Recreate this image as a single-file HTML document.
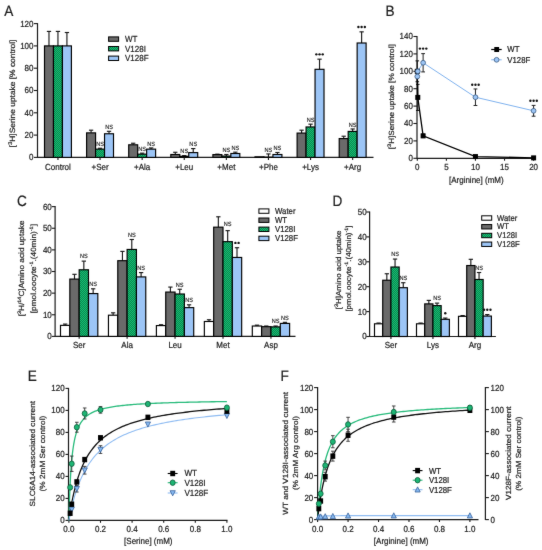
<!DOCTYPE html>
<html><head><meta charset="utf-8"><style>
html,body{margin:0;padding:0;background:#fff;width:542px;height:550px;overflow:hidden}
svg{display:block}
text{text-rendering:geometricPrecision;font-family:"Liberation Sans",sans-serif;fill:#1e1e1e;stroke:#222;stroke-width:0.2px}
</style></head><body>
<svg width="542" height="550" viewBox="0 0 542 550">
<defs>
<filter id="bl" x="0" y="0" width="542" height="550" filterUnits="userSpaceOnUse" color-interpolation-filters="sRGB"><feConvolveMatrix order="3" kernelMatrix="0.015 0.07 0.015 0.07 1 0.07 0.015 0.07 0.015" divisor="1.34" edgeMode="duplicate"/></filter>
<pattern id="hatch" patternUnits="userSpaceOnUse" width="2" height="2">
<rect width="2" height="2" fill="#14c273"/>
<path d="M-0.5,0.5 L0.5,-0.5 M-0.5,2.5 L2.5,-0.5 M1.5,2.5 L2.5,1.5" stroke="#08603a" stroke-width="0.65"/>
</pattern>
</defs>
<g filter="url(#bl)">
<rect width="542" height="550" fill="#fff"/>
<text transform="translate(4.3,15.8) scale(1,1.1)" font-size="13.6" text-anchor="start" >A</text>
<line x1="37.5" y1="23.1" x2="37.5" y2="157.9" stroke="#1a1a1a" stroke-width="1.2" />
<line x1="33.9" y1="157.4" x2="37.5" y2="157.4" stroke="#1a1a1a" stroke-width="1.1" />
<text transform="translate(33.5,160.3) scale(1,1.1)" font-size="8.0" text-anchor="end" >0</text>
<line x1="33.9" y1="135.1" x2="37.5" y2="135.1" stroke="#1a1a1a" stroke-width="1.1" />
<text transform="translate(33.5,138) scale(1,1.1)" font-size="8.0" text-anchor="end" >20</text>
<line x1="33.9" y1="112.8" x2="37.5" y2="112.8" stroke="#1a1a1a" stroke-width="1.1" />
<text transform="translate(33.5,115.7) scale(1,1.1)" font-size="8.0" text-anchor="end" >40</text>
<line x1="33.9" y1="90.5" x2="37.5" y2="90.5" stroke="#1a1a1a" stroke-width="1.1" />
<text transform="translate(33.5,93.4) scale(1,1.1)" font-size="8.0" text-anchor="end" >60</text>
<line x1="33.9" y1="68.2" x2="37.5" y2="68.2" stroke="#1a1a1a" stroke-width="1.1" />
<text transform="translate(33.5,71.1) scale(1,1.1)" font-size="8.0" text-anchor="end" >80</text>
<line x1="33.9" y1="45.9" x2="37.5" y2="45.9" stroke="#1a1a1a" stroke-width="1.1" />
<text transform="translate(33.5,48.8) scale(1,1.1)" font-size="8.0" text-anchor="end" >100</text>
<line x1="33.9" y1="23.6" x2="37.5" y2="23.6" stroke="#1a1a1a" stroke-width="1.1" />
<text transform="translate(33.5,26.5) scale(1,1.1)" font-size="8.0" text-anchor="end" >120</text>
<line x1="37.5" y1="157.4" x2="373.5" y2="157.4" stroke="#1a1a1a" stroke-width="1.2" />
<line x1="48.98" y1="45.9" x2="48.98" y2="31.41" stroke="#1a1a1a" stroke-width="1.15" />
<line x1="46.84" y1="31.41" x2="51.13" y2="31.41" stroke="#1a1a1a" stroke-width="1.15" />
<rect x="44.5" y="45.9" width="8.97" height="111.5" fill="#6a6a6a" stroke="#000" stroke-width="1.15"/>
<line x1="57.95" y1="45.9" x2="57.95" y2="31.41" stroke="#1a1a1a" stroke-width="1.15" />
<line x1="55.8" y1="31.41" x2="60.1" y2="31.41" stroke="#1a1a1a" stroke-width="1.15" />
<rect x="53.47" y="45.9" width="8.97" height="111.5" fill="url(#hatch)" stroke="#000" stroke-width="1.15"/>
<line x1="66.92" y1="45.9" x2="66.92" y2="32.52" stroke="#1a1a1a" stroke-width="1.15" />
<line x1="64.77" y1="32.52" x2="69.08" y2="32.52" stroke="#1a1a1a" stroke-width="1.15" />
<rect x="62.44" y="45.9" width="8.97" height="111.5" fill="#9cc5f6" stroke="#000" stroke-width="1.15"/>
<line x1="57.95" y1="157.4" x2="57.95" y2="160" stroke="#1a1a1a" stroke-width="1.1" />
<text transform="translate(57.95,169.6) scale(1,1.1)" font-size="8.0" text-anchor="middle" >Control</text>
<line x1="91.08" y1="132.87" x2="91.08" y2="130.19" stroke="#1a1a1a" stroke-width="1.15" />
<line x1="88.93" y1="130.19" x2="93.23" y2="130.19" stroke="#1a1a1a" stroke-width="1.15" />
<rect x="86.6" y="132.87" width="8.97" height="24.53" fill="#6a6a6a" stroke="#000" stroke-width="1.15"/>
<line x1="100.05" y1="149.15" x2="100.05" y2="148.26" stroke="#1a1a1a" stroke-width="1.15" />
<line x1="97.9" y1="148.26" x2="102.2" y2="148.26" stroke="#1a1a1a" stroke-width="1.15" />
<rect x="95.57" y="149.15" width="8.97" height="8.25" fill="url(#hatch)" stroke="#000" stroke-width="1.15"/>
<text transform="translate(100.05,146.06) scale(1,1.1)" font-size="5.6" text-anchor="middle" style="stroke:#111;stroke-width:0.12px" fill="#111">NS</text>
<line x1="109.02" y1="133.76" x2="109.02" y2="131.31" stroke="#1a1a1a" stroke-width="1.15" />
<line x1="106.87" y1="131.31" x2="111.17" y2="131.31" stroke="#1a1a1a" stroke-width="1.15" />
<rect x="104.54" y="133.76" width="8.97" height="23.64" fill="#9cc5f6" stroke="#000" stroke-width="1.15"/>
<text transform="translate(109.02,129.11) scale(1,1.1)" font-size="5.6" text-anchor="middle" style="stroke:#111;stroke-width:0.12px" fill="#111">NS</text>
<line x1="100.05" y1="157.4" x2="100.05" y2="160" stroke="#1a1a1a" stroke-width="1.1" />
<text transform="translate(100.05,169.6) scale(1,1.1)" font-size="8.0" text-anchor="middle" >+Ser</text>
<line x1="133.19" y1="144.8" x2="133.19" y2="143.24" stroke="#1a1a1a" stroke-width="1.15" />
<line x1="131.03" y1="143.24" x2="135.34" y2="143.24" stroke="#1a1a1a" stroke-width="1.15" />
<rect x="128.7" y="144.8" width="8.97" height="12.6" fill="#6a6a6a" stroke="#000" stroke-width="1.15"/>
<line x1="142.16" y1="154.17" x2="142.16" y2="153.16" stroke="#1a1a1a" stroke-width="1.15" />
<line x1="140" y1="153.16" x2="144.31" y2="153.16" stroke="#1a1a1a" stroke-width="1.15" />
<rect x="137.67" y="154.17" width="8.97" height="3.23" fill="url(#hatch)" stroke="#000" stroke-width="1.15"/>
<text transform="translate(142.16,150.96) scale(1,1.1)" font-size="5.6" text-anchor="middle" style="stroke:#111;stroke-width:0.12px" fill="#111">NS</text>
<line x1="151.12" y1="149.15" x2="151.12" y2="147.92" stroke="#1a1a1a" stroke-width="1.15" />
<line x1="148.97" y1="147.92" x2="153.28" y2="147.92" stroke="#1a1a1a" stroke-width="1.15" />
<rect x="146.64" y="149.15" width="8.97" height="8.25" fill="#9cc5f6" stroke="#000" stroke-width="1.15"/>
<text transform="translate(151.12,145.72) scale(1,1.1)" font-size="5.6" text-anchor="middle" style="stroke:#111;stroke-width:0.12px" fill="#111">NS</text>
<line x1="142.16" y1="157.4" x2="142.16" y2="160" stroke="#1a1a1a" stroke-width="1.1" />
<text transform="translate(142.16,169.6) scale(1,1.1)" font-size="8.0" text-anchor="middle" >+Ala</text>
<line x1="175.29" y1="154.5" x2="175.29" y2="152.27" stroke="#1a1a1a" stroke-width="1.15" />
<line x1="173.14" y1="152.27" x2="177.44" y2="152.27" stroke="#1a1a1a" stroke-width="1.15" />
<rect x="170.8" y="154.5" width="8.97" height="2.9" fill="#6a6a6a" stroke="#000" stroke-width="1.15"/>
<line x1="184.26" y1="156.28" x2="184.26" y2="155.62" stroke="#1a1a1a" stroke-width="1.15" />
<line x1="182.11" y1="155.62" x2="186.41" y2="155.62" stroke="#1a1a1a" stroke-width="1.15" />
<rect x="179.77" y="156.28" width="8.97" height="1.12" fill="url(#hatch)" stroke="#000" stroke-width="1.15"/>
<text transform="translate(184.26,153.42) scale(1,1.1)" font-size="5.6" text-anchor="middle" style="stroke:#111;stroke-width:0.12px" fill="#111">NS</text>
<line x1="193.23" y1="152.61" x2="193.23" y2="148.59" stroke="#1a1a1a" stroke-width="1.15" />
<line x1="191.08" y1="148.59" x2="195.38" y2="148.59" stroke="#1a1a1a" stroke-width="1.15" />
<rect x="188.74" y="152.61" width="8.97" height="4.79" fill="#9cc5f6" stroke="#000" stroke-width="1.15"/>
<text transform="translate(193.23,146.39) scale(1,1.1)" font-size="5.6" text-anchor="middle" style="stroke:#111;stroke-width:0.12px" fill="#111">NS</text>
<line x1="184.26" y1="157.4" x2="184.26" y2="160" stroke="#1a1a1a" stroke-width="1.1" />
<text transform="translate(184.26,169.6) scale(1,1.1)" font-size="8.0" text-anchor="middle" >+Leu</text>
<line x1="217.39" y1="154.61" x2="217.39" y2="154.17" stroke="#1a1a1a" stroke-width="1.15" />
<line x1="215.24" y1="154.17" x2="219.54" y2="154.17" stroke="#1a1a1a" stroke-width="1.15" />
<rect x="212.9" y="154.61" width="8.97" height="2.79" fill="#6a6a6a" stroke="#000" stroke-width="1.15"/>
<line x1="226.36" y1="156.06" x2="226.36" y2="154.5" stroke="#1a1a1a" stroke-width="1.15" />
<line x1="224.21" y1="154.5" x2="228.51" y2="154.5" stroke="#1a1a1a" stroke-width="1.15" />
<rect x="221.87" y="156.06" width="8.97" height="1.34" fill="url(#hatch)" stroke="#000" stroke-width="1.15"/>
<text transform="translate(226.36,152.3) scale(1,1.1)" font-size="5.6" text-anchor="middle" style="stroke:#111;stroke-width:0.12px" fill="#111">NS</text>
<line x1="235.33" y1="153.5" x2="235.33" y2="152.16" stroke="#1a1a1a" stroke-width="1.15" />
<line x1="233.18" y1="152.16" x2="237.48" y2="152.16" stroke="#1a1a1a" stroke-width="1.15" />
<rect x="230.84" y="153.5" width="8.97" height="3.9" fill="#9cc5f6" stroke="#000" stroke-width="1.15"/>
<text transform="translate(235.33,149.96) scale(1,1.1)" font-size="5.6" text-anchor="middle" style="stroke:#111;stroke-width:0.12px" fill="#111">NS</text>
<line x1="226.36" y1="157.4" x2="226.36" y2="160" stroke="#1a1a1a" stroke-width="1.1" />
<text transform="translate(226.36,169.6) scale(1,1.1)" font-size="8.0" text-anchor="middle" >+Met</text>
<rect x="255" y="156.84" width="8.97" height="0.56" fill="#6a6a6a" stroke="#000" stroke-width="1.15"/>
<line x1="268.46" y1="157.18" x2="268.46" y2="153.94" stroke="#1a1a1a" stroke-width="1.15" />
<line x1="266.31" y1="153.94" x2="270.61" y2="153.94" stroke="#1a1a1a" stroke-width="1.15" />
<rect x="263.97" y="157.18" width="8.97" height="0.22" fill="url(#hatch)" stroke="#000" stroke-width="1.15"/>
<text transform="translate(268.46,151.74) scale(1,1.1)" font-size="5.6" text-anchor="middle" style="stroke:#111;stroke-width:0.12px" fill="#111">NS</text>
<line x1="277.43" y1="154.5" x2="277.43" y2="152.49" stroke="#1a1a1a" stroke-width="1.15" />
<line x1="275.28" y1="152.49" x2="279.57" y2="152.49" stroke="#1a1a1a" stroke-width="1.15" />
<rect x="272.94" y="154.5" width="8.97" height="2.9" fill="#9cc5f6" stroke="#000" stroke-width="1.15"/>
<text transform="translate(277.43,150.29) scale(1,1.1)" font-size="5.6" text-anchor="middle" style="stroke:#111;stroke-width:0.12px" fill="#111">NS</text>
<line x1="268.45" y1="157.4" x2="268.45" y2="160" stroke="#1a1a1a" stroke-width="1.1" />
<text transform="translate(268.45,169.6) scale(1,1.1)" font-size="8.0" text-anchor="middle" >+Phe</text>
<line x1="301.59" y1="133.09" x2="301.59" y2="130.19" stroke="#1a1a1a" stroke-width="1.15" />
<line x1="299.44" y1="130.19" x2="303.74" y2="130.19" stroke="#1a1a1a" stroke-width="1.15" />
<rect x="297.1" y="133.09" width="8.97" height="24.31" fill="#6a6a6a" stroke="#000" stroke-width="1.15"/>
<line x1="310.56" y1="126.96" x2="310.56" y2="124.17" stroke="#1a1a1a" stroke-width="1.15" />
<line x1="308.41" y1="124.17" x2="312.71" y2="124.17" stroke="#1a1a1a" stroke-width="1.15" />
<rect x="306.07" y="126.96" width="8.97" height="30.44" fill="url(#hatch)" stroke="#000" stroke-width="1.15"/>
<text transform="translate(310.56,121.97) scale(1,1.1)" font-size="5.6" text-anchor="middle" style="stroke:#111;stroke-width:0.12px" fill="#111">NS</text>
<line x1="319.53" y1="69.32" x2="319.53" y2="59.17" stroke="#1a1a1a" stroke-width="1.15" />
<line x1="317.38" y1="59.17" x2="321.68" y2="59.17" stroke="#1a1a1a" stroke-width="1.15" />
<rect x="315.04" y="69.32" width="8.97" height="88.08" fill="#9cc5f6" stroke="#000" stroke-width="1.15"/>
<circle cx="316.33" cy="54.37" r="1.2" fill="#111"/>
<circle cx="319.53" cy="54.37" r="1.2" fill="#111"/>
<circle cx="322.73" cy="54.37" r="1.2" fill="#111"/>
<line x1="310.56" y1="157.4" x2="310.56" y2="160" stroke="#1a1a1a" stroke-width="1.1" />
<text transform="translate(310.56,169.6) scale(1,1.1)" font-size="8.0" text-anchor="middle" >+Lys</text>
<line x1="343.69" y1="138.56" x2="343.69" y2="136.22" stroke="#1a1a1a" stroke-width="1.15" />
<line x1="341.54" y1="136.22" x2="345.83" y2="136.22" stroke="#1a1a1a" stroke-width="1.15" />
<rect x="339.2" y="138.56" width="8.97" height="18.84" fill="#6a6a6a" stroke="#000" stroke-width="1.15"/>
<line x1="352.66" y1="131.42" x2="352.66" y2="128.97" stroke="#1a1a1a" stroke-width="1.15" />
<line x1="350.51" y1="128.97" x2="354.81" y2="128.97" stroke="#1a1a1a" stroke-width="1.15" />
<rect x="348.17" y="131.42" width="8.97" height="25.98" fill="url(#hatch)" stroke="#000" stroke-width="1.15"/>
<text transform="translate(352.66,126.77) scale(1,1.1)" font-size="5.6" text-anchor="middle" style="stroke:#111;stroke-width:0.12px" fill="#111">NS</text>
<line x1="361.62" y1="43" x2="361.62" y2="31.85" stroke="#1a1a1a" stroke-width="1.15" />
<line x1="359.48" y1="31.85" x2="363.77" y2="31.85" stroke="#1a1a1a" stroke-width="1.15" />
<rect x="357.14" y="43" width="8.97" height="114.4" fill="#9cc5f6" stroke="#000" stroke-width="1.15"/>
<circle cx="358.43" cy="27.05" r="1.2" fill="#111"/>
<circle cx="361.62" cy="27.05" r="1.2" fill="#111"/>
<circle cx="364.82" cy="27.05" r="1.2" fill="#111"/>
<line x1="352.65" y1="157.4" x2="352.65" y2="160" stroke="#1a1a1a" stroke-width="1.1" />
<text transform="translate(352.65,169.6) scale(1,1.1)" font-size="8.0" text-anchor="middle" >+Arg</text>
<rect x="108.6" y="36.9" width="10" height="4.4" fill="#6a6a6a" stroke="#000" stroke-width="1.0"/>
<text transform="translate(125,41.9) scale(1,1.1)" font-size="8.0" text-anchor="start" >WT</text>
<rect x="108.6" y="46.5" width="10" height="4.4" fill="url(#hatch)" stroke="#000" stroke-width="1.0"/>
<text transform="translate(125,51.5) scale(1,1.1)" font-size="8.0" text-anchor="start" >V128I</text>
<rect x="108.6" y="56.1" width="10" height="4.4" fill="#9cc5f6" stroke="#000" stroke-width="1.0"/>
<text transform="translate(125,61.1) scale(1,1.1)" font-size="8.0" text-anchor="start" >V128F</text>
<text transform="translate(15.2,93.5) scale(1,1.1) rotate(-90)" font-size="7.64" text-anchor="middle">[<tspan font-size="5.5" dy="-3">3</tspan><tspan dy="3">H]Serine uptake [% control]</tspan></text>
<text transform="translate(385.4,15.8) scale(1,1.1)" font-size="13.6" text-anchor="start" >B</text>
<line x1="417" y1="36" x2="417" y2="158.8" stroke="#1a1a1a" stroke-width="1.2" />
<line x1="413.4" y1="158.3" x2="417" y2="158.3" stroke="#1a1a1a" stroke-width="1.1" />
<text transform="translate(412.9,161.2) scale(1,1.1)" font-size="8.0" text-anchor="end" >0</text>
<line x1="413.4" y1="140.9" x2="417" y2="140.9" stroke="#1a1a1a" stroke-width="1.1" />
<text transform="translate(412.9,143.8) scale(1,1.1)" font-size="8.0" text-anchor="end" >20</text>
<line x1="413.4" y1="123.5" x2="417" y2="123.5" stroke="#1a1a1a" stroke-width="1.1" />
<text transform="translate(412.9,126.4) scale(1,1.1)" font-size="8.0" text-anchor="end" >40</text>
<line x1="413.4" y1="106.1" x2="417" y2="106.1" stroke="#1a1a1a" stroke-width="1.1" />
<text transform="translate(412.9,109) scale(1,1.1)" font-size="8.0" text-anchor="end" >60</text>
<line x1="413.4" y1="88.7" x2="417" y2="88.7" stroke="#1a1a1a" stroke-width="1.1" />
<text transform="translate(412.9,91.6) scale(1,1.1)" font-size="8.0" text-anchor="end" >80</text>
<line x1="413.4" y1="71.3" x2="417" y2="71.3" stroke="#1a1a1a" stroke-width="1.1" />
<text transform="translate(412.9,74.2) scale(1,1.1)" font-size="8.0" text-anchor="end" >100</text>
<line x1="413.4" y1="53.9" x2="417" y2="53.9" stroke="#1a1a1a" stroke-width="1.1" />
<text transform="translate(412.9,56.8) scale(1,1.1)" font-size="8.0" text-anchor="end" >120</text>
<line x1="413.4" y1="36.5" x2="417" y2="36.5" stroke="#1a1a1a" stroke-width="1.1" />
<text transform="translate(412.9,39.4) scale(1,1.1)" font-size="8.0" text-anchor="end" >140</text>
<line x1="417" y1="158.3" x2="534.2" y2="158.3" stroke="#1a1a1a" stroke-width="1.2" />
<line x1="417.3" y1="158.3" x2="417.3" y2="160.7" stroke="#1a1a1a" stroke-width="1.1" />
<text transform="translate(417.3,169.8) scale(1,1.1)" font-size="8.0" text-anchor="middle" >0</text>
<line x1="446.38" y1="158.3" x2="446.38" y2="160.7" stroke="#1a1a1a" stroke-width="1.1" />
<text transform="translate(446.38,169.8) scale(1,1.1)" font-size="8.0" text-anchor="middle" >5</text>
<line x1="475.45" y1="158.3" x2="475.45" y2="160.7" stroke="#1a1a1a" stroke-width="1.1" />
<text transform="translate(475.45,169.8) scale(1,1.1)" font-size="8.0" text-anchor="middle" >10</text>
<line x1="504.53" y1="158.3" x2="504.53" y2="160.7" stroke="#1a1a1a" stroke-width="1.1" />
<text transform="translate(504.53,169.8) scale(1,1.1)" font-size="8.0" text-anchor="middle" >15</text>
<line x1="533.6" y1="158.3" x2="533.6" y2="160.7" stroke="#1a1a1a" stroke-width="1.1" />
<text transform="translate(533.6,169.8) scale(1,1.1)" font-size="8.0" text-anchor="middle" >20</text>
<text transform="translate(476.3,183.2) scale(1,1.1)" font-size="8.0" text-anchor="middle" >[Arginine] (mM)</text>
<text transform="translate(393.5,96.8) scale(1,1.1) rotate(-90)" font-size="7.45" text-anchor="middle">[<tspan font-size="5.3" dy="-3">3</tspan><tspan dy="3">H]Serine uptake [% control]</tspan></text>
<line x1="417.3" y1="60.86" x2="417.3" y2="81.74" stroke="#111" stroke-width="1.0" />
<line x1="415.5" y1="60.86" x2="419.1" y2="60.86" stroke="#111" stroke-width="1.0" />
<line x1="415.5" y1="81.74" x2="419.1" y2="81.74" stroke="#111" stroke-width="1.0" />
<line x1="417.77" y1="84.35" x2="417.77" y2="110.45" stroke="#111" stroke-width="1.0" />
<line x1="415.97" y1="84.35" x2="419.57" y2="84.35" stroke="#111" stroke-width="1.0" />
<line x1="415.97" y1="110.45" x2="419.57" y2="110.45" stroke="#111" stroke-width="1.0" />
<line x1="423.12" y1="134.11" x2="423.12" y2="137.59" stroke="#111" stroke-width="1.0" />
<line x1="421.31" y1="134.11" x2="424.92" y2="134.11" stroke="#111" stroke-width="1.0" />
<line x1="421.31" y1="137.59" x2="424.92" y2="137.59" stroke="#111" stroke-width="1.0" />
<line x1="475.45" y1="155.69" x2="475.45" y2="157.43" stroke="#111" stroke-width="1.0" />
<line x1="473.65" y1="155.69" x2="477.25" y2="155.69" stroke="#111" stroke-width="1.0" />
<line x1="473.65" y1="157.43" x2="477.25" y2="157.43" stroke="#111" stroke-width="1.0" />
<line x1="423.12" y1="53.64" x2="423.12" y2="71.91" stroke="#222" stroke-width="1.0" />
<line x1="421.22" y1="53.64" x2="425.01" y2="53.64" stroke="#222" stroke-width="1.0" />
<line x1="421.22" y1="71.91" x2="425.01" y2="71.91" stroke="#222" stroke-width="1.0" />
<line x1="475.45" y1="88.96" x2="475.45" y2="105.49" stroke="#222" stroke-width="1.0" />
<line x1="473.55" y1="88.96" x2="477.35" y2="88.96" stroke="#222" stroke-width="1.0" />
<line x1="473.55" y1="105.49" x2="477.35" y2="105.49" stroke="#222" stroke-width="1.0" />
<line x1="533.6" y1="105.4" x2="533.6" y2="116.19" stroke="#222" stroke-width="1.0" />
<line x1="531.7" y1="105.4" x2="535.5" y2="105.4" stroke="#222" stroke-width="1.0" />
<line x1="531.7" y1="116.19" x2="535.5" y2="116.19" stroke="#222" stroke-width="1.0" />
<polyline points="417.3,71.3 417.77,97.4 423.12,135.85 475.45,156.56 533.6,157.87" fill="none" stroke="#000" stroke-width="1.3"/>
<polyline points="417.3,76.52 417.77,71.3 423.12,62.77 475.45,97.23 533.6,110.8" fill="none" stroke="#7fb2ee" stroke-width="1.0"/>
<rect x="414.8" y="68.8" width="5" height="5" fill="#000"/>
<rect x="415.27" y="94.9" width="5" height="5" fill="#000"/>
<rect x="420.62" y="133.35" width="5" height="5" fill="#000"/>
<rect x="472.95" y="154.06" width="5" height="5" fill="#000"/>
<rect x="531.1" y="155.37" width="5" height="5" fill="#000"/>
<circle cx="417.3" cy="76.52" r="2.4" fill="#9cc5f6" stroke="#3a5a80" stroke-width="0.8"/>
<circle cx="417.77" cy="71.3" r="2.4" fill="#9cc5f6" stroke="#3a5a80" stroke-width="0.8"/>
<circle cx="423.12" cy="62.77" r="2.4" fill="#9cc5f6" stroke="#3a5a80" stroke-width="0.8"/>
<circle cx="475.45" cy="97.23" r="2.4" fill="#9cc5f6" stroke="#3a5a80" stroke-width="0.8"/>
<circle cx="533.6" cy="110.8" r="2.4" fill="#9cc5f6" stroke="#3a5a80" stroke-width="0.8"/>
<circle cx="419.92" cy="48.6" r="1.2" fill="#111"/>
<circle cx="423.12" cy="48.6" r="1.2" fill="#111"/>
<circle cx="426.31" cy="48.6" r="1.2" fill="#111"/>
<circle cx="472.25" cy="84.8" r="1.2" fill="#111"/>
<circle cx="475.45" cy="84.8" r="1.2" fill="#111"/>
<circle cx="478.65" cy="84.8" r="1.2" fill="#111"/>
<circle cx="530.4" cy="100.8" r="1.2" fill="#111"/>
<circle cx="533.6" cy="100.8" r="1.2" fill="#111"/>
<circle cx="536.8" cy="100.8" r="1.2" fill="#111"/>
<line x1="491.2" y1="49.5" x2="501.7" y2="49.5" stroke="#000" stroke-width="1.2" />
<rect x="494.3" y="47.0" width="4.8" height="5.0" fill="#000"/>
<line x1="491.2" y1="59.8" x2="501.7" y2="59.8" stroke="#7fb2ee" stroke-width="1.0" />
<circle cx="496.6" cy="59.8" r="2.4" fill="#9cc5f6" stroke="#3a5a80" stroke-width="0.8"/>
<text transform="translate(507.3,52.4) scale(1,1.1)" font-size="7.8" text-anchor="start" >WT</text>
<text transform="translate(507.3,62.7) scale(1,1.1)" font-size="7.8" text-anchor="start" >V128F</text>
<text transform="translate(17,206.3) scale(1,1.1)" font-size="13.6" text-anchor="start" >C</text>
<line x1="55.1" y1="206.12" x2="55.1" y2="336.9" stroke="#1a1a1a" stroke-width="1.2" />
<line x1="51.8" y1="336.4" x2="55.1" y2="336.4" stroke="#1a1a1a" stroke-width="1.1" />
<text transform="translate(51.8,339.3) scale(1,1.1)" font-size="8.0" text-anchor="end" >0</text>
<line x1="51.8" y1="314.77" x2="55.1" y2="314.77" stroke="#1a1a1a" stroke-width="1.1" />
<text transform="translate(51.8,317.67) scale(1,1.1)" font-size="8.0" text-anchor="end" >10</text>
<line x1="51.8" y1="293.14" x2="55.1" y2="293.14" stroke="#1a1a1a" stroke-width="1.1" />
<text transform="translate(51.8,296.04) scale(1,1.1)" font-size="8.0" text-anchor="end" >20</text>
<line x1="51.8" y1="271.51" x2="55.1" y2="271.51" stroke="#1a1a1a" stroke-width="1.1" />
<text transform="translate(51.8,274.41) scale(1,1.1)" font-size="8.0" text-anchor="end" >30</text>
<line x1="51.8" y1="249.88" x2="55.1" y2="249.88" stroke="#1a1a1a" stroke-width="1.1" />
<text transform="translate(51.8,252.78) scale(1,1.1)" font-size="8.0" text-anchor="end" >40</text>
<line x1="51.8" y1="228.25" x2="55.1" y2="228.25" stroke="#1a1a1a" stroke-width="1.1" />
<text transform="translate(51.8,231.15) scale(1,1.1)" font-size="8.0" text-anchor="end" >50</text>
<line x1="51.8" y1="206.62" x2="55.1" y2="206.62" stroke="#1a1a1a" stroke-width="1.1" />
<text transform="translate(51.8,209.52) scale(1,1.1)" font-size="8.0" text-anchor="end" >60</text>
<line x1="55.1" y1="336.4" x2="295.5" y2="336.4" stroke="#1a1a1a" stroke-width="1.2" />
<line x1="65.17" y1="325.37" x2="65.17" y2="324.07" stroke="#1a1a1a" stroke-width="1.15" />
<line x1="63.02" y1="324.07" x2="67.32" y2="324.07" stroke="#1a1a1a" stroke-width="1.15" />
<rect x="60.5" y="325.37" width="9.33" height="11.03" fill="#ffffff" stroke="#000" stroke-width="1.15"/>
<line x1="74.5" y1="279.08" x2="74.5" y2="274.32" stroke="#1a1a1a" stroke-width="1.15" />
<line x1="72.34" y1="274.32" x2="76.65" y2="274.32" stroke="#1a1a1a" stroke-width="1.15" />
<rect x="69.83" y="279.08" width="9.33" height="57.32" fill="#6a6a6a" stroke="#000" stroke-width="1.15"/>
<line x1="83.83" y1="269.78" x2="83.83" y2="261.13" stroke="#1a1a1a" stroke-width="1.15" />
<line x1="81.67" y1="261.13" x2="85.98" y2="261.13" stroke="#1a1a1a" stroke-width="1.15" />
<rect x="79.16" y="269.78" width="9.33" height="66.62" fill="url(#hatch)" stroke="#000" stroke-width="1.15"/>
<text transform="translate(83.83,258.43) scale(1,1.1)" font-size="5.6" text-anchor="middle" style="stroke:#111;stroke-width:0.12px" fill="#111">NS</text>
<line x1="93.16" y1="293.57" x2="93.16" y2="288.81" stroke="#1a1a1a" stroke-width="1.15" />
<line x1="91.01" y1="288.81" x2="95.31" y2="288.81" stroke="#1a1a1a" stroke-width="1.15" />
<rect x="88.49" y="293.57" width="9.33" height="42.83" fill="#9cc5f6" stroke="#000" stroke-width="1.15"/>
<text transform="translate(93.16,286.11) scale(1,1.1)" font-size="5.6" text-anchor="middle" style="stroke:#111;stroke-width:0.12px" fill="#111">NS</text>
<line x1="79.16" y1="336.4" x2="79.16" y2="338.8" stroke="#1a1a1a" stroke-width="1.1" />
<text transform="translate(79.16,348) scale(1,1.1)" font-size="8.0" text-anchor="middle" >Ser</text>
<line x1="113.12" y1="315.2" x2="113.12" y2="312.82" stroke="#1a1a1a" stroke-width="1.15" />
<line x1="110.97" y1="312.82" x2="115.27" y2="312.82" stroke="#1a1a1a" stroke-width="1.15" />
<rect x="108.45" y="315.2" width="9.33" height="21.2" fill="#ffffff" stroke="#000" stroke-width="1.15"/>
<line x1="122.45" y1="260.69" x2="122.45" y2="251.39" stroke="#1a1a1a" stroke-width="1.15" />
<line x1="120.3" y1="251.39" x2="124.6" y2="251.39" stroke="#1a1a1a" stroke-width="1.15" />
<rect x="117.78" y="260.69" width="9.33" height="75.7" fill="#6a6a6a" stroke="#000" stroke-width="1.15"/>
<line x1="131.78" y1="249.45" x2="131.78" y2="239.5" stroke="#1a1a1a" stroke-width="1.15" />
<line x1="129.62" y1="239.5" x2="133.93" y2="239.5" stroke="#1a1a1a" stroke-width="1.15" />
<rect x="127.11" y="249.45" width="9.33" height="86.95" fill="url(#hatch)" stroke="#000" stroke-width="1.15"/>
<text transform="translate(131.78,236.8) scale(1,1.1)" font-size="5.6" text-anchor="middle" style="stroke:#111;stroke-width:0.12px" fill="#111">NS</text>
<line x1="141.1" y1="276.92" x2="141.1" y2="272.59" stroke="#1a1a1a" stroke-width="1.15" />
<line x1="138.95" y1="272.59" x2="143.25" y2="272.59" stroke="#1a1a1a" stroke-width="1.15" />
<rect x="136.44" y="276.92" width="9.33" height="59.48" fill="#9cc5f6" stroke="#000" stroke-width="1.15"/>
<text transform="translate(141.1,269.89) scale(1,1.1)" font-size="5.6" text-anchor="middle" style="stroke:#111;stroke-width:0.12px" fill="#111">NS</text>
<line x1="127.11" y1="336.4" x2="127.11" y2="338.8" stroke="#1a1a1a" stroke-width="1.1" />
<text transform="translate(127.11,348) scale(1,1.1)" font-size="8.0" text-anchor="middle" >Ala</text>
<line x1="161.06" y1="325.58" x2="161.06" y2="324.72" stroke="#1a1a1a" stroke-width="1.15" />
<line x1="158.91" y1="324.72" x2="163.22" y2="324.72" stroke="#1a1a1a" stroke-width="1.15" />
<rect x="156.4" y="325.58" width="9.33" height="10.81" fill="#ffffff" stroke="#000" stroke-width="1.15"/>
<line x1="170.4" y1="292.06" x2="170.4" y2="287.08" stroke="#1a1a1a" stroke-width="1.15" />
<line x1="168.25" y1="287.08" x2="172.55" y2="287.08" stroke="#1a1a1a" stroke-width="1.15" />
<rect x="165.73" y="292.06" width="9.33" height="44.34" fill="#6a6a6a" stroke="#000" stroke-width="1.15"/>
<line x1="179.72" y1="294.01" x2="179.72" y2="289.25" stroke="#1a1a1a" stroke-width="1.15" />
<line x1="177.57" y1="289.25" x2="181.88" y2="289.25" stroke="#1a1a1a" stroke-width="1.15" />
<rect x="175.06" y="294.01" width="9.33" height="42.39" fill="url(#hatch)" stroke="#000" stroke-width="1.15"/>
<text transform="translate(179.72,286.55) scale(1,1.1)" font-size="5.6" text-anchor="middle" style="stroke:#111;stroke-width:0.12px" fill="#111">NS</text>
<line x1="189.06" y1="307.63" x2="189.06" y2="304.82" stroke="#1a1a1a" stroke-width="1.15" />
<line x1="186.91" y1="304.82" x2="191.21" y2="304.82" stroke="#1a1a1a" stroke-width="1.15" />
<rect x="184.39" y="307.63" width="9.33" height="28.77" fill="#9cc5f6" stroke="#000" stroke-width="1.15"/>
<text transform="translate(189.06,302.12) scale(1,1.1)" font-size="5.6" text-anchor="middle" style="stroke:#111;stroke-width:0.12px" fill="#111">NS</text>
<line x1="175.06" y1="336.4" x2="175.06" y2="338.8" stroke="#1a1a1a" stroke-width="1.1" />
<text transform="translate(175.06,348) scale(1,1.1)" font-size="8.0" text-anchor="middle" >Leu</text>
<line x1="209.01" y1="321.48" x2="209.01" y2="319.74" stroke="#1a1a1a" stroke-width="1.15" />
<line x1="206.86" y1="319.74" x2="211.16" y2="319.74" stroke="#1a1a1a" stroke-width="1.15" />
<rect x="204.35" y="321.48" width="9.33" height="14.92" fill="#ffffff" stroke="#000" stroke-width="1.15"/>
<line x1="218.34" y1="227.17" x2="218.34" y2="216.79" stroke="#1a1a1a" stroke-width="1.15" />
<line x1="216.19" y1="216.79" x2="220.5" y2="216.79" stroke="#1a1a1a" stroke-width="1.15" />
<rect x="213.68" y="227.17" width="9.33" height="109.23" fill="#6a6a6a" stroke="#000" stroke-width="1.15"/>
<line x1="227.67" y1="241.66" x2="227.67" y2="230.63" stroke="#1a1a1a" stroke-width="1.15" />
<line x1="225.52" y1="230.63" x2="229.82" y2="230.63" stroke="#1a1a1a" stroke-width="1.15" />
<rect x="223.01" y="241.66" width="9.33" height="94.74" fill="url(#hatch)" stroke="#000" stroke-width="1.15"/>
<text transform="translate(227.67,225.63) scale(1,1.1)" font-size="5.6" text-anchor="middle" style="stroke:#111;stroke-width:0.12px" fill="#111">NS</text>
<line x1="237" y1="257.45" x2="237" y2="247.72" stroke="#1a1a1a" stroke-width="1.15" />
<line x1="234.85" y1="247.72" x2="239.16" y2="247.72" stroke="#1a1a1a" stroke-width="1.15" />
<rect x="232.34" y="257.45" width="9.33" height="78.95" fill="#9cc5f6" stroke="#000" stroke-width="1.15"/>
<circle cx="235.41" cy="242.92" r="1.2" fill="#111"/>
<circle cx="238.6" cy="242.92" r="1.2" fill="#111"/>
<line x1="223.01" y1="336.4" x2="223.01" y2="338.8" stroke="#1a1a1a" stroke-width="1.1" />
<text transform="translate(223.01,348) scale(1,1.1)" font-size="8.0" text-anchor="middle" >Met</text>
<line x1="256.97" y1="326.02" x2="256.97" y2="325.15" stroke="#1a1a1a" stroke-width="1.15" />
<line x1="254.82" y1="325.15" x2="259.12" y2="325.15" stroke="#1a1a1a" stroke-width="1.15" />
<rect x="252.3" y="326.02" width="9.33" height="10.38" fill="#ffffff" stroke="#000" stroke-width="1.15"/>
<line x1="266.3" y1="326.67" x2="266.3" y2="326.02" stroke="#1a1a1a" stroke-width="1.15" />
<line x1="264.15" y1="326.02" x2="268.44" y2="326.02" stroke="#1a1a1a" stroke-width="1.15" />
<rect x="261.63" y="326.67" width="9.33" height="9.73" fill="#6a6a6a" stroke="#000" stroke-width="1.15"/>
<line x1="275.63" y1="326.88" x2="275.63" y2="326.02" stroke="#1a1a1a" stroke-width="1.15" />
<line x1="273.48" y1="326.02" x2="277.78" y2="326.02" stroke="#1a1a1a" stroke-width="1.15" />
<rect x="270.96" y="326.88" width="9.33" height="9.52" fill="url(#hatch)" stroke="#000" stroke-width="1.15"/>
<text transform="translate(275.63,323.32) scale(1,1.1)" font-size="5.6" text-anchor="middle" style="stroke:#111;stroke-width:0.12px" fill="#111">NS</text>
<line x1="284.96" y1="323.42" x2="284.96" y2="322.34" stroke="#1a1a1a" stroke-width="1.15" />
<line x1="282.81" y1="322.34" x2="287.11" y2="322.34" stroke="#1a1a1a" stroke-width="1.15" />
<rect x="280.29" y="323.42" width="9.33" height="12.98" fill="#9cc5f6" stroke="#000" stroke-width="1.15"/>
<text transform="translate(284.96,319.64) scale(1,1.1)" font-size="5.6" text-anchor="middle" style="stroke:#111;stroke-width:0.12px" fill="#111">NS</text>
<line x1="270.96" y1="336.4" x2="270.96" y2="338.8" stroke="#1a1a1a" stroke-width="1.1" />
<text transform="translate(270.96,348) scale(1,1.1)" font-size="8.0" text-anchor="middle" >Asp</text>
<rect x="258.9" y="208.9" width="10" height="4.4" fill="#ffffff" stroke="#000" stroke-width="1.0"/>
<text transform="translate(275,213.7) scale(1,1.1)" font-size="7.8" text-anchor="start" >Water</text>
<rect x="258.9" y="218" width="10" height="4.4" fill="#6a6a6a" stroke="#000" stroke-width="1.0"/>
<text transform="translate(275,222.8) scale(1,1.1)" font-size="7.8" text-anchor="start" >WT</text>
<rect x="258.9" y="227.1" width="10" height="4.4" fill="url(#hatch)" stroke="#000" stroke-width="1.0"/>
<text transform="translate(275,231.9) scale(1,1.1)" font-size="7.8" text-anchor="start" >V128I</text>
<rect x="258.9" y="236.2" width="10" height="4.4" fill="#9cc5f6" stroke="#000" stroke-width="1.0"/>
<text transform="translate(275,241) scale(1,1.1)" font-size="7.8" text-anchor="start" >V128F</text>
<text transform="translate(24.2,268.4) scale(1,1.1) rotate(-90)" font-size="7.50" text-anchor="middle">[<tspan font-size="5" dy="-3">3</tspan><tspan dy="3">H/</tspan><tspan font-size="5" dy="-3">14</tspan><tspan dy="3">C]Amino acid uptake</tspan></text><text transform="translate(36.0,268.6) scale(1,1.1) rotate(-90)" font-size="7.50" text-anchor="middle">[pmol.oocyte<tspan font-size="5" dy="-3">-1</tspan><tspan dy="3">.(40min)</tspan><tspan font-size="5" dy="-3">-1</tspan><tspan dy="3">]</tspan></text>
<text transform="translate(332.4,205.8) scale(1,1.1)" font-size="13.6" text-anchor="start" >D</text>
<line x1="369.6" y1="211.5" x2="369.6" y2="337" stroke="#1a1a1a" stroke-width="1.2" />
<line x1="366.3" y1="336.5" x2="369.6" y2="336.5" stroke="#1a1a1a" stroke-width="1.1" />
<text transform="translate(366.6,339.4) scale(1,1.1)" font-size="8.0" text-anchor="end" >0</text>
<line x1="366.3" y1="311.6" x2="369.6" y2="311.6" stroke="#1a1a1a" stroke-width="1.1" />
<text transform="translate(366.6,314.5) scale(1,1.1)" font-size="8.0" text-anchor="end" >10</text>
<line x1="366.3" y1="286.7" x2="369.6" y2="286.7" stroke="#1a1a1a" stroke-width="1.1" />
<text transform="translate(366.6,289.6) scale(1,1.1)" font-size="8.0" text-anchor="end" >20</text>
<line x1="366.3" y1="261.8" x2="369.6" y2="261.8" stroke="#1a1a1a" stroke-width="1.1" />
<text transform="translate(366.6,264.7) scale(1,1.1)" font-size="8.0" text-anchor="end" >30</text>
<line x1="366.3" y1="236.9" x2="369.6" y2="236.9" stroke="#1a1a1a" stroke-width="1.1" />
<text transform="translate(366.6,239.8) scale(1,1.1)" font-size="8.0" text-anchor="end" >40</text>
<line x1="366.3" y1="212" x2="369.6" y2="212" stroke="#1a1a1a" stroke-width="1.1" />
<text transform="translate(366.6,214.9) scale(1,1.1)" font-size="8.0" text-anchor="end" >50</text>
<line x1="369.6" y1="336.5" x2="495.9" y2="336.5" stroke="#1a1a1a" stroke-width="1.2" />
<line x1="378.61" y1="323.8" x2="378.61" y2="323.05" stroke="#1a1a1a" stroke-width="1.15" />
<line x1="376.46" y1="323.05" x2="380.76" y2="323.05" stroke="#1a1a1a" stroke-width="1.15" />
<rect x="374.5" y="323.8" width="8.22" height="12.7" fill="#ffffff" stroke="#000" stroke-width="1.15"/>
<line x1="386.83" y1="280.23" x2="386.83" y2="273.75" stroke="#1a1a1a" stroke-width="1.15" />
<line x1="384.68" y1="273.75" x2="388.98" y2="273.75" stroke="#1a1a1a" stroke-width="1.15" />
<rect x="382.72" y="280.23" width="8.22" height="56.27" fill="#6a6a6a" stroke="#000" stroke-width="1.15"/>
<line x1="395.05" y1="267.03" x2="395.05" y2="259.06" stroke="#1a1a1a" stroke-width="1.15" />
<line x1="392.9" y1="259.06" x2="397.2" y2="259.06" stroke="#1a1a1a" stroke-width="1.15" />
<rect x="390.94" y="267.03" width="8.22" height="69.47" fill="url(#hatch)" stroke="#000" stroke-width="1.15"/>
<text transform="translate(395.05,256.36) scale(1,1.1)" font-size="5.6" text-anchor="middle" style="stroke:#111;stroke-width:0.12px" fill="#111">NS</text>
<line x1="403.27" y1="287.7" x2="403.27" y2="282.72" stroke="#1a1a1a" stroke-width="1.15" />
<line x1="401.12" y1="282.72" x2="405.42" y2="282.72" stroke="#1a1a1a" stroke-width="1.15" />
<rect x="399.16" y="287.7" width="8.22" height="48.8" fill="#9cc5f6" stroke="#000" stroke-width="1.15"/>
<text transform="translate(403.27,280.02) scale(1,1.1)" font-size="5.6" text-anchor="middle" style="stroke:#111;stroke-width:0.12px" fill="#111">NS</text>
<line x1="390.94" y1="336.5" x2="390.94" y2="338.9" stroke="#1a1a1a" stroke-width="1.1" />
<text transform="translate(390.94,348.1) scale(1,1.1)" font-size="8.0" text-anchor="middle" >Ser</text>
<line x1="420.61" y1="323.8" x2="420.61" y2="323.05" stroke="#1a1a1a" stroke-width="1.15" />
<line x1="418.46" y1="323.05" x2="422.76" y2="323.05" stroke="#1a1a1a" stroke-width="1.15" />
<rect x="416.5" y="323.8" width="8.22" height="12.7" fill="#ffffff" stroke="#000" stroke-width="1.15"/>
<line x1="428.83" y1="303.88" x2="428.83" y2="300.39" stroke="#1a1a1a" stroke-width="1.15" />
<line x1="426.68" y1="300.39" x2="430.98" y2="300.39" stroke="#1a1a1a" stroke-width="1.15" />
<rect x="424.72" y="303.88" width="8.22" height="32.62" fill="#6a6a6a" stroke="#000" stroke-width="1.15"/>
<line x1="437.05" y1="305.62" x2="437.05" y2="303.13" stroke="#1a1a1a" stroke-width="1.15" />
<line x1="434.9" y1="303.13" x2="439.2" y2="303.13" stroke="#1a1a1a" stroke-width="1.15" />
<rect x="432.94" y="305.62" width="8.22" height="30.88" fill="url(#hatch)" stroke="#000" stroke-width="1.15"/>
<text transform="translate(437.05,300.43) scale(1,1.1)" font-size="5.6" text-anchor="middle" style="stroke:#111;stroke-width:0.12px" fill="#111">NS</text>
<line x1="445.27" y1="319.32" x2="445.27" y2="318.07" stroke="#1a1a1a" stroke-width="1.15" />
<line x1="443.12" y1="318.07" x2="447.42" y2="318.07" stroke="#1a1a1a" stroke-width="1.15" />
<rect x="441.16" y="319.32" width="8.22" height="17.18" fill="#9cc5f6" stroke="#000" stroke-width="1.15"/>
<circle cx="445.27" cy="313.27" r="1.2" fill="#111"/>
<line x1="432.94" y1="336.5" x2="432.94" y2="338.9" stroke="#1a1a1a" stroke-width="1.1" />
<text transform="translate(432.94,348.1) scale(1,1.1)" font-size="8.0" text-anchor="middle" >Lys</text>
<line x1="462.61" y1="316.33" x2="462.61" y2="315.58" stroke="#1a1a1a" stroke-width="1.15" />
<line x1="460.46" y1="315.58" x2="464.76" y2="315.58" stroke="#1a1a1a" stroke-width="1.15" />
<rect x="458.5" y="316.33" width="8.22" height="20.17" fill="#ffffff" stroke="#000" stroke-width="1.15"/>
<line x1="470.83" y1="265.53" x2="470.83" y2="259.31" stroke="#1a1a1a" stroke-width="1.15" />
<line x1="468.68" y1="259.31" x2="472.98" y2="259.31" stroke="#1a1a1a" stroke-width="1.15" />
<rect x="466.72" y="265.53" width="8.22" height="70.97" fill="#6a6a6a" stroke="#000" stroke-width="1.15"/>
<line x1="479.05" y1="279.48" x2="479.05" y2="272.51" stroke="#1a1a1a" stroke-width="1.15" />
<line x1="476.9" y1="272.51" x2="481.2" y2="272.51" stroke="#1a1a1a" stroke-width="1.15" />
<rect x="474.94" y="279.48" width="8.22" height="57.02" fill="url(#hatch)" stroke="#000" stroke-width="1.15"/>
<text transform="translate(479.05,269.81) scale(1,1.1)" font-size="5.6" text-anchor="middle" style="stroke:#111;stroke-width:0.12px" fill="#111">NS</text>
<line x1="487.27" y1="316.08" x2="487.27" y2="314.59" stroke="#1a1a1a" stroke-width="1.15" />
<line x1="485.12" y1="314.59" x2="489.42" y2="314.59" stroke="#1a1a1a" stroke-width="1.15" />
<rect x="483.16" y="316.08" width="8.22" height="20.42" fill="#9cc5f6" stroke="#000" stroke-width="1.15"/>
<circle cx="484.07" cy="309.79" r="1.2" fill="#111"/>
<circle cx="487.27" cy="309.79" r="1.2" fill="#111"/>
<circle cx="490.47" cy="309.79" r="1.2" fill="#111"/>
<line x1="474.94" y1="336.5" x2="474.94" y2="338.9" stroke="#1a1a1a" stroke-width="1.1" />
<text transform="translate(474.94,348.1) scale(1,1.1)" font-size="8.0" text-anchor="middle" >Arg</text>
<rect x="481.7" y="215.8" width="10" height="4.4" fill="#ffffff" stroke="#000" stroke-width="1.0"/>
<text transform="translate(497,220.6) scale(1,1.1)" font-size="7.7" text-anchor="start" >Water</text>
<rect x="481.7" y="224.55" width="10" height="4.4" fill="#6a6a6a" stroke="#000" stroke-width="1.0"/>
<text transform="translate(497,229.35) scale(1,1.1)" font-size="7.7" text-anchor="start" >WT</text>
<rect x="481.7" y="233.3" width="10" height="4.4" fill="url(#hatch)" stroke="#000" stroke-width="1.0"/>
<text transform="translate(497,238.1) scale(1,1.1)" font-size="7.7" text-anchor="start" >V128I</text>
<rect x="481.7" y="242.05" width="10" height="4.4" fill="#9cc5f6" stroke="#000" stroke-width="1.0"/>
<text transform="translate(497,246.85) scale(1,1.1)" font-size="7.7" text-anchor="start" >V128F</text>
<text transform="translate(341.0,269.9) scale(1,1.1) rotate(-90)" font-size="7.23" text-anchor="middle">[<tspan font-size="5" dy="-3">3</tspan><tspan dy="3">H]Amino acid uptake</tspan></text><text transform="translate(351.2,268.5) scale(1,1.1) rotate(-90)" font-size="7.23" text-anchor="middle">[pmol.oocyte<tspan font-size="5" dy="-3">-1</tspan><tspan dy="3">.(40min)</tspan><tspan font-size="5" dy="-3">-1</tspan><tspan dy="3">]</tspan></text>
<text transform="translate(27.8,380.8) scale(1,1.1)" font-size="13.6" text-anchor="start" >E</text>
<line x1="68.5" y1="387.9" x2="68.5" y2="520.9" stroke="#1a1a1a" stroke-width="1.2" />
<line x1="65.5" y1="520.4" x2="68.5" y2="520.4" stroke="#1a1a1a" stroke-width="1.1" />
<text transform="translate(64.7,523.3) scale(1,1.1)" font-size="8.0" text-anchor="end" >0</text>
<line x1="65.5" y1="498.4" x2="68.5" y2="498.4" stroke="#1a1a1a" stroke-width="1.1" />
<text transform="translate(64.7,501.3) scale(1,1.1)" font-size="8.0" text-anchor="end" >20</text>
<line x1="65.5" y1="476.4" x2="68.5" y2="476.4" stroke="#1a1a1a" stroke-width="1.1" />
<text transform="translate(64.7,479.3) scale(1,1.1)" font-size="8.0" text-anchor="end" >40</text>
<line x1="65.5" y1="454.4" x2="68.5" y2="454.4" stroke="#1a1a1a" stroke-width="1.1" />
<text transform="translate(64.7,457.3) scale(1,1.1)" font-size="8.0" text-anchor="end" >60</text>
<line x1="65.5" y1="432.4" x2="68.5" y2="432.4" stroke="#1a1a1a" stroke-width="1.1" />
<text transform="translate(64.7,435.3) scale(1,1.1)" font-size="8.0" text-anchor="end" >80</text>
<line x1="65.5" y1="410.4" x2="68.5" y2="410.4" stroke="#1a1a1a" stroke-width="1.1" />
<text transform="translate(64.7,413.3) scale(1,1.1)" font-size="8.0" text-anchor="end" >100</text>
<line x1="65.5" y1="388.4" x2="68.5" y2="388.4" stroke="#1a1a1a" stroke-width="1.1" />
<text transform="translate(64.7,391.3) scale(1,1.1)" font-size="8.0" text-anchor="end" >120</text>
<line x1="68.5" y1="520.4" x2="227.5" y2="520.4" stroke="#1a1a1a" stroke-width="1.2" />
<line x1="68.9" y1="520.4" x2="68.9" y2="522.8" stroke="#1a1a1a" stroke-width="1.1" />
<text transform="translate(68.9,532.3) scale(1,1.1)" font-size="8.0" text-anchor="middle" >0.0</text>
<line x1="100.5" y1="520.4" x2="100.5" y2="522.8" stroke="#1a1a1a" stroke-width="1.1" />
<text transform="translate(100.5,532.3) scale(1,1.1)" font-size="8.0" text-anchor="middle" >0.2</text>
<line x1="132.1" y1="520.4" x2="132.1" y2="522.8" stroke="#1a1a1a" stroke-width="1.1" />
<text transform="translate(132.1,532.3) scale(1,1.1)" font-size="8.0" text-anchor="middle" >0.4</text>
<line x1="163.7" y1="520.4" x2="163.7" y2="522.8" stroke="#1a1a1a" stroke-width="1.1" />
<text transform="translate(163.7,532.3) scale(1,1.1)" font-size="8.0" text-anchor="middle" >0.6</text>
<line x1="195.3" y1="520.4" x2="195.3" y2="522.8" stroke="#1a1a1a" stroke-width="1.1" />
<text transform="translate(195.3,532.3) scale(1,1.1)" font-size="8.0" text-anchor="middle" >0.8</text>
<line x1="226.9" y1="520.4" x2="226.9" y2="522.8" stroke="#1a1a1a" stroke-width="1.1" />
<text transform="translate(226.9,532.3) scale(1,1.1)" font-size="8.0" text-anchor="middle" >1.0</text>
<text transform="translate(148.3,544.4) scale(1,1.1)" font-size="8.0" text-anchor="middle" >[Serine] (mM)</text>
<text transform="translate(35.3,453.7) scale(1,1.1) rotate(-90)" font-size="7.50" text-anchor="middle">SLC6A14-associated current</text>
<text transform="translate(45.4,453.6) scale(1,1.1) rotate(-90)" font-size="7.50" text-anchor="middle">(% 2mM Ser control)</text>
<polyline points="68.9,520.4 68.91,519.93 68.94,518.56 69,516.34 69.08,513.37 69.17,509.76 69.3,505.64 69.44,501.16 69.6,496.44 69.79,491.59 70,486.71 70.23,481.89 70.48,477.19 70.75,472.64 71.05,468.3 71.37,464.17 71.71,460.28 72.07,456.61 72.46,453.18 72.86,449.97 73.29,446.98 73.74,444.19 74.21,441.6 74.7,439.19 75.22,436.95 75.76,434.87 76.32,432.94 76.9,431.14 77.5,429.46 78.13,427.91 78.78,426.46 79.44,425.1 80.14,423.84 80.85,422.66 81.58,421.56 82.34,420.53 83.12,419.57 83.92,418.66 84.74,417.81 85.59,417.02 86.46,416.27 87.34,415.56 88.25,414.9 89.19,414.28 90.14,413.69 91.12,413.13 92.12,412.6 93.14,412.11 94.18,411.64 95.24,411.19 96.33,410.77 97.44,410.37 98.57,409.98 99.72,409.62 100.9,409.28 102.09,408.95 103.31,408.64 104.55,408.34 105.81,408.06 107.09,407.79 108.4,407.53 109.73,407.28 111.08,407.04 112.45,406.82 113.84,406.6 115.26,406.39 116.7,406.2 118.15,406.01 119.64,405.82 121.14,405.65 122.66,405.48 124.21,405.32 125.78,405.16 127.37,405.01 128.98,404.87 130.62,404.73 132.28,404.6 133.95,404.47 135.66,404.34 137.38,404.22 139.12,404.11 140.89,404 142.68,403.89 144.49,403.79 146.32,403.69 148.17,403.59 150.05,403.5 151.95,403.41 153.87,403.32 155.81,403.23 157.78,403.15 159.76,403.07 161.77,403 163.8,402.92 165.85,402.85 167.92,402.78 170.02,402.71 172.14,402.64 174.28,402.58 176.44,402.52 178.62,402.46 180.83,402.4 183.06,402.34 185.3,402.29 187.58,402.23 189.87,402.18 192.18,402.13 194.52,402.08 196.88,402.03 199.26,401.98 201.66,401.94 204.09,401.89 206.54,401.85 209,401.81 211.5,401.77 214.01,401.73 216.54,401.69 219.1,401.65 221.68,401.61 224.28,401.57 226.9,401.54" fill="none" stroke="#27bb7b" stroke-width="1.3"/>
<polyline points="68.9,520.4 68.91,520.32 68.94,520.09 69,519.7 69.08,519.16 69.17,518.47 69.3,517.64 69.44,516.67 69.6,515.57 69.79,514.35 70,513.02 70.23,511.58 70.48,510.04 70.75,508.42 71.05,506.71 71.37,504.94 71.71,503.11 72.07,501.22 72.46,499.29 72.86,497.33 73.29,495.34 73.74,493.33 74.21,491.31 74.7,489.28 75.22,487.25 75.76,485.23 76.32,483.22 76.9,481.22 77.5,479.25 78.13,477.29 78.78,475.36 79.44,473.46 80.14,471.6 80.85,469.76 81.58,467.96 82.34,466.19 83.12,464.46 83.92,462.77 84.74,461.12 85.59,459.51 86.46,457.94 87.34,456.4 88.25,454.91 89.19,453.45 90.14,452.03 91.12,450.66 92.12,449.31 93.14,448.01 94.18,446.74 95.24,445.51 96.33,444.31 97.44,443.15 98.57,442.02 99.72,440.92 100.9,439.85 102.09,438.82 103.31,437.81 104.55,436.84 105.81,435.89 107.09,434.97 108.4,434.08 109.73,433.21 111.08,432.37 112.45,431.56 113.84,430.76 115.26,429.99 116.7,429.25 118.15,428.52 119.64,427.82 121.14,427.13 122.66,426.47 124.21,425.82 125.78,425.19 127.37,424.58 128.98,423.99 130.62,423.41 132.28,422.85 133.95,422.31 135.66,421.78 137.38,421.26 139.12,420.76 140.89,420.27 142.68,419.8 144.49,419.34 146.32,418.89 148.17,418.45 150.05,418.03 151.95,417.61 153.87,417.21 155.81,416.81 157.78,416.43 159.76,416.06 161.77,415.7 163.8,415.34 165.85,415 167.92,414.66 170.02,414.33 172.14,414.01 174.28,413.7 176.44,413.39 178.62,413.1 180.83,412.81 183.06,412.52 185.3,412.25 187.58,411.98 189.87,411.72 192.18,411.46 194.52,411.21 196.88,410.96 199.26,410.72 201.66,410.49 204.09,410.26 206.54,410.04 209,409.82 211.5,409.6 214.01,409.4 216.54,409.19 219.1,408.99 221.68,408.8 224.28,408.6 226.9,408.42" fill="none" stroke="#111" stroke-width="1.3"/>
<polyline points="68.9,520.4 68.91,520.34 68.94,520.17 69,519.88 69.08,519.48 69.17,518.97 69.3,518.35 69.44,517.63 69.6,516.8 69.79,515.88 70,514.87 70.23,513.77 70.48,512.59 70.75,511.34 71.05,510.02 71.37,508.63 71.71,507.18 72.07,505.69 72.46,504.15 72.86,502.56 73.29,500.95 73.74,499.3 74.21,497.63 74.7,495.94 75.22,494.24 75.76,492.52 76.32,490.81 76.9,489.09 77.5,487.37 78.13,485.66 78.78,483.95 79.44,482.26 80.14,480.59 80.85,478.92 81.58,477.28 82.34,475.66 83.12,474.06 83.92,472.48 84.74,470.93 85.59,469.4 86.46,467.91 87.34,466.43 88.25,464.99 89.19,463.57 90.14,462.19 91.12,460.83 92.12,459.5 93.14,458.2 94.18,456.92 95.24,455.68 96.33,454.47 97.44,453.28 98.57,452.12 99.72,450.99 100.9,449.89 102.09,448.81 103.31,447.76 104.55,446.74 105.81,445.74 107.09,444.77 108.4,443.82 109.73,442.89 111.08,441.99 112.45,441.11 113.84,440.26 115.26,439.42 116.7,438.61 118.15,437.81 119.64,437.04 121.14,436.29 122.66,435.55 124.21,434.84 125.78,434.14 127.37,433.46 128.98,432.8 130.62,432.16 132.28,431.53 133.95,430.91 135.66,430.32 137.38,429.73 139.12,429.17 140.89,428.61 142.68,428.07 144.49,427.54 146.32,427.03 148.17,426.53 150.05,426.04 151.95,425.56 153.87,425.1 155.81,424.64 157.78,424.2 159.76,423.77 161.77,423.34 163.8,422.93 165.85,422.53 167.92,422.13 170.02,421.75 172.14,421.38 174.28,421.01 176.44,420.65 178.62,420.3 180.83,419.96 183.06,419.62 185.3,419.3 187.58,418.98 189.87,418.67 192.18,418.36 194.52,418.06 196.88,417.77 199.26,417.49 201.66,417.21 204.09,416.93 206.54,416.67 209,416.41 211.5,416.15 214.01,415.9 216.54,415.65 219.1,415.41 221.68,415.18 224.28,414.95 226.9,414.72" fill="none" stroke="#8fbcf2" stroke-width="1.1"/>
<line x1="71.74" y1="456.05" x2="71.74" y2="471.45" stroke="#333" stroke-width="0.9" />
<line x1="69.94" y1="456.05" x2="73.54" y2="456.05" stroke="#333" stroke-width="0.9" />
<line x1="69.94" y1="471.45" x2="73.54" y2="471.45" stroke="#333" stroke-width="0.9" />
<line x1="76.8" y1="422.28" x2="76.8" y2="432.18" stroke="#333" stroke-width="0.9" />
<line x1="75" y1="422.28" x2="78.6" y2="422.28" stroke="#333" stroke-width="0.9" />
<line x1="75" y1="432.18" x2="78.6" y2="432.18" stroke="#333" stroke-width="0.9" />
<line x1="84.7" y1="407.98" x2="84.7" y2="418.98" stroke="#333" stroke-width="0.9" />
<line x1="82.9" y1="407.98" x2="86.5" y2="407.98" stroke="#333" stroke-width="0.9" />
<line x1="82.9" y1="418.98" x2="86.5" y2="418.98" stroke="#333" stroke-width="0.9" />
<line x1="100.5" y1="406.55" x2="100.5" y2="413.15" stroke="#333" stroke-width="0.9" />
<line x1="98.7" y1="406.55" x2="102.3" y2="406.55" stroke="#333" stroke-width="0.9" />
<line x1="98.7" y1="413.15" x2="102.3" y2="413.15" stroke="#333" stroke-width="0.9" />
<line x1="76.8" y1="485.42" x2="76.8" y2="492.02" stroke="#333" stroke-width="0.9" />
<line x1="75" y1="485.42" x2="78.6" y2="485.42" stroke="#333" stroke-width="0.9" />
<line x1="75" y1="492.02" x2="78.6" y2="492.02" stroke="#333" stroke-width="0.9" />
<line x1="84.7" y1="466.39" x2="84.7" y2="474.09" stroke="#333" stroke-width="0.9" />
<line x1="82.9" y1="466.39" x2="86.5" y2="466.39" stroke="#333" stroke-width="0.9" />
<line x1="82.9" y1="474.09" x2="86.5" y2="474.09" stroke="#333" stroke-width="0.9" />
<line x1="100.5" y1="445.71" x2="100.5" y2="453.41" stroke="#333" stroke-width="0.9" />
<line x1="98.7" y1="445.71" x2="102.3" y2="445.71" stroke="#333" stroke-width="0.9" />
<line x1="98.7" y1="453.41" x2="102.3" y2="453.41" stroke="#333" stroke-width="0.9" />
<path d="M69.14,507.1 L74.34,507.1 L71.74,512.25 Z" fill="#86b9f2" stroke="#38629a" stroke-width="0.8"/>
<path d="M74.2,486.42 L79.4,486.42 L76.8,491.57 Z" fill="#86b9f2" stroke="#38629a" stroke-width="0.8"/>
<path d="M82.1,467.94 L87.3,467.94 L84.7,473.09 Z" fill="#86b9f2" stroke="#38629a" stroke-width="0.8"/>
<path d="M97.9,447.26 L103.1,447.26 L100.5,452.41 Z" fill="#86b9f2" stroke="#38629a" stroke-width="0.8"/>
<path d="M145.3,421.96 L150.5,421.96 L147.9,427.11 Z" fill="#86b9f2" stroke="#38629a" stroke-width="0.8"/>
<path d="M224.3,413.38 L229.5,413.38 L226.9,418.53 Z" fill="#86b9f2" stroke="#38629a" stroke-width="0.8"/>
<rect x="67.71" y="510.55" width="4.9" height="5.4" fill="#000"/>
<rect x="69.29" y="501.53" width="4.9" height="5.4" fill="#000"/>
<rect x="74.35" y="479.2" width="4.9" height="5.4" fill="#000"/>
<rect x="82.25" y="456.87" width="4.9" height="5.4" fill="#000"/>
<rect x="98.05" y="435.09" width="4.9" height="5.4" fill="#000"/>
<rect x="145.45" y="414.63" width="4.9" height="5.4" fill="#000"/>
<rect x="224.45" y="408.47" width="4.9" height="5.4" fill="#000"/>
<ellipse cx="70.16" cy="487.4" rx="2.5" ry="2.75" fill="#1db574" stroke="#0c5a38" stroke-width="0.8"/>
<ellipse cx="71.74" cy="463.75" rx="2.5" ry="2.75" fill="#1db574" stroke="#0c5a38" stroke-width="0.8"/>
<ellipse cx="76.8" cy="427.23" rx="2.5" ry="2.75" fill="#1db574" stroke="#0c5a38" stroke-width="0.8"/>
<ellipse cx="84.7" cy="413.48" rx="2.5" ry="2.75" fill="#1db574" stroke="#0c5a38" stroke-width="0.8"/>
<ellipse cx="100.5" cy="409.85" rx="2.5" ry="2.75" fill="#1db574" stroke="#0c5a38" stroke-width="0.8"/>
<ellipse cx="147.9" cy="404.02" rx="2.5" ry="2.75" fill="#1db574" stroke="#0c5a38" stroke-width="0.8"/>
<ellipse cx="226.9" cy="407.65" rx="2.5" ry="2.75" fill="#1db574" stroke="#0c5a38" stroke-width="0.8"/>
<line x1="167.7" y1="473.5" x2="177.6" y2="473.5" stroke="#000" stroke-width="1.1" />
<rect x="170.25" y="470.8" width="4.9" height="5.4" fill="#000"/>
<text transform="translate(184.4,476.4) scale(1,1.1)" font-size="8.1" text-anchor="start" >WT</text>
<line x1="167.7" y1="482.7" x2="177.6" y2="482.7" stroke="#27bb7b" stroke-width="1.1" />
<ellipse cx="172.7" cy="482.7" rx="2.5" ry="2.75" fill="#1db574" stroke="#0c5a38" stroke-width="0.8"/>
<text transform="translate(184.4,485.6) scale(1,1.1)" font-size="8.1" text-anchor="start" >V128I</text>
<line x1="167.7" y1="493" x2="177.6" y2="493" stroke="#8fbcf2" stroke-width="1.1" />
<path d="M170.1,490.7 L175.3,490.7 L172.7,495.85 Z" fill="#86b9f2" stroke="#38629a" stroke-width="0.8"/>
<text transform="translate(184.4,495.9) scale(1,1.1)" font-size="8.1" text-anchor="start" >V128F</text>
<text transform="translate(280.4,380.8) scale(1,1.1)" font-size="13.6" text-anchor="start" >F</text>
<line x1="317.6" y1="387.1" x2="317.6" y2="520.1" stroke="#1a1a1a" stroke-width="1.2" />
<line x1="485.4" y1="387.1" x2="485.4" y2="520.1" stroke="#1a1a1a" stroke-width="1.2" />
<line x1="314.1" y1="519.6" x2="317.6" y2="519.6" stroke="#1a1a1a" stroke-width="1.1" />
<text transform="translate(313.3,522.5) scale(1,1.1)" font-size="8.0" text-anchor="end" >0</text>
<line x1="485.4" y1="519.6" x2="488.9" y2="519.6" stroke="#1a1a1a" stroke-width="1.1" />
<text transform="translate(490.6,522.5) scale(1,1.1)" font-size="8.0" text-anchor="start" >0</text>
<line x1="314.1" y1="497.6" x2="317.6" y2="497.6" stroke="#1a1a1a" stroke-width="1.1" />
<text transform="translate(313.3,500.5) scale(1,1.1)" font-size="8.0" text-anchor="end" >20</text>
<line x1="485.4" y1="497.6" x2="488.9" y2="497.6" stroke="#1a1a1a" stroke-width="1.1" />
<text transform="translate(490.6,500.5) scale(1,1.1)" font-size="8.0" text-anchor="start" >20</text>
<line x1="314.1" y1="475.6" x2="317.6" y2="475.6" stroke="#1a1a1a" stroke-width="1.1" />
<text transform="translate(313.3,478.5) scale(1,1.1)" font-size="8.0" text-anchor="end" >40</text>
<line x1="485.4" y1="475.6" x2="488.9" y2="475.6" stroke="#1a1a1a" stroke-width="1.1" />
<text transform="translate(490.6,478.5) scale(1,1.1)" font-size="8.0" text-anchor="start" >40</text>
<line x1="314.1" y1="453.6" x2="317.6" y2="453.6" stroke="#1a1a1a" stroke-width="1.1" />
<text transform="translate(313.3,456.5) scale(1,1.1)" font-size="8.0" text-anchor="end" >60</text>
<line x1="485.4" y1="453.6" x2="488.9" y2="453.6" stroke="#1a1a1a" stroke-width="1.1" />
<text transform="translate(490.6,456.5) scale(1,1.1)" font-size="8.0" text-anchor="start" >60</text>
<line x1="314.1" y1="431.6" x2="317.6" y2="431.6" stroke="#1a1a1a" stroke-width="1.1" />
<text transform="translate(313.3,434.5) scale(1,1.1)" font-size="8.0" text-anchor="end" >80</text>
<line x1="485.4" y1="431.6" x2="488.9" y2="431.6" stroke="#1a1a1a" stroke-width="1.1" />
<text transform="translate(490.6,434.5) scale(1,1.1)" font-size="8.0" text-anchor="start" >80</text>
<line x1="314.1" y1="409.6" x2="317.6" y2="409.6" stroke="#1a1a1a" stroke-width="1.1" />
<text transform="translate(313.3,412.5) scale(1,1.1)" font-size="8.0" text-anchor="end" >100</text>
<line x1="485.4" y1="409.6" x2="488.9" y2="409.6" stroke="#1a1a1a" stroke-width="1.1" />
<text transform="translate(490.6,412.5) scale(1,1.1)" font-size="8.0" text-anchor="start" >100</text>
<line x1="314.1" y1="387.6" x2="317.6" y2="387.6" stroke="#1a1a1a" stroke-width="1.1" />
<text transform="translate(313.3,390.5) scale(1,1.1)" font-size="8.0" text-anchor="end" >120</text>
<line x1="485.4" y1="387.6" x2="488.9" y2="387.6" stroke="#1a1a1a" stroke-width="1.1" />
<text transform="translate(490.6,390.5) scale(1,1.1)" font-size="8.0" text-anchor="start" >120</text>
<line x1="317.6" y1="519.6" x2="478.5" y2="519.6" stroke="#1a1a1a" stroke-width="1.2" />
<line x1="317.6" y1="519.6" x2="317.6" y2="522" stroke="#1a1a1a" stroke-width="1.1" />
<text transform="translate(317.6,531.6) scale(1,1.1)" font-size="8.0" text-anchor="middle" >0.0</text>
<line x1="348.06" y1="519.6" x2="348.06" y2="522" stroke="#1a1a1a" stroke-width="1.1" />
<text transform="translate(348.06,531.6) scale(1,1.1)" font-size="8.0" text-anchor="middle" >0.2</text>
<line x1="378.52" y1="519.6" x2="378.52" y2="522" stroke="#1a1a1a" stroke-width="1.1" />
<text transform="translate(378.52,531.6) scale(1,1.1)" font-size="8.0" text-anchor="middle" >0.4</text>
<line x1="408.98" y1="519.6" x2="408.98" y2="522" stroke="#1a1a1a" stroke-width="1.1" />
<text transform="translate(408.98,531.6) scale(1,1.1)" font-size="8.0" text-anchor="middle" >0.6</text>
<line x1="439.44" y1="519.6" x2="439.44" y2="522" stroke="#1a1a1a" stroke-width="1.1" />
<text transform="translate(439.44,531.6) scale(1,1.1)" font-size="8.0" text-anchor="middle" >0.8</text>
<line x1="469.9" y1="519.6" x2="469.9" y2="522" stroke="#1a1a1a" stroke-width="1.1" />
<text transform="translate(469.9,531.6) scale(1,1.1)" font-size="8.0" text-anchor="middle" >1.0</text>
<text transform="translate(401.2,544.4) scale(1,1.1)" font-size="8.0" text-anchor="middle" >[Arginine] (mM)</text>
<text transform="translate(288.1,453.3) scale(1,1.1) rotate(-90)" font-size="7.50" text-anchor="middle">WT and V128I-associated current</text>
<text transform="translate(297.9,453.0) scale(1,1.1) rotate(-90)" font-size="7.36" text-anchor="middle">(% 2mM Arg control)</text>
<text transform="translate(511.0,453.2) scale(1,1.1) rotate(-90)" font-size="7.45" text-anchor="middle">V128F-associated current</text>
<text transform="translate(521.0,453.6) scale(1,1.1) rotate(-90)" font-size="7.36" text-anchor="middle">(% 2mM Ser control)</text>
<polyline points="317.6,519.6 317.61,519.44 317.64,518.95 317.7,518.15 317.77,517.04 317.86,515.65 317.98,514 318.12,512.1 318.28,509.99 318.46,507.7 318.66,505.25 318.88,502.67 319.12,499.98 319.39,497.23 319.67,494.42 319.98,491.58 320.31,488.73 320.66,485.89 321.03,483.07 321.42,480.29 321.83,477.56 322.26,474.89 322.72,472.29 323.19,469.75 323.69,467.29 324.21,464.91 324.75,462.6 325.31,460.38 325.89,458.25 326.49,456.19 327.12,454.21 327.76,452.31 328.43,450.49 329.12,448.75 329.83,447.07 330.56,445.47 331.31,443.94 332.08,442.47 332.87,441.06 333.69,439.72 334.52,438.43 335.38,437.2 336.26,436.02 337.16,434.89 338.08,433.81 339.02,432.77 339.98,431.78 340.96,430.83 341.97,429.92 342.99,429.05 344.04,428.22 345.11,427.42 346.2,426.65 347.31,425.91 348.44,425.21 349.59,424.53 350.77,423.88 351.96,423.25 353.18,422.65 354.42,422.07 355.68,421.52 356.95,420.98 358.26,420.47 359.58,419.97 360.92,419.5 362.29,419.04 363.67,418.6 365.08,418.17 366.51,417.76 367.95,417.36 369.42,416.98 370.92,416.61 372.43,416.25 373.96,415.91 375.52,415.58 377.09,415.26 378.69,414.95 380.31,414.65 381.95,414.36 383.61,414.07 385.29,413.8 386.99,413.54 388.72,413.28 390.46,413.04 392.23,412.8 394.01,412.57 395.82,412.34 397.65,412.12 399.5,411.91 401.38,411.71 403.27,411.51 405.18,411.31 407.12,411.13 409.08,410.95 411.05,410.77 413.05,410.6 415.07,410.43 417.11,410.27 419.18,410.11 421.26,409.95 423.36,409.81 425.49,409.66 427.64,409.52 429.8,409.38 431.99,409.25 434.2,409.12 436.44,408.99 438.69,408.86 440.96,408.74 443.26,408.63 445.57,408.51 447.91,408.4 450.27,408.29 452.65,408.18 455.05,408.08 457.47,407.98 459.92,407.88 462.38,407.78 464.87,407.69 467.37,407.59 469.9,407.5" fill="none" stroke="#27bb7b" stroke-width="1.3"/>
<polyline points="317.6,519.6 317.61,519.5 317.64,519.21 317.7,518.73 317.77,518.07 317.86,517.22 317.98,516.21 318.12,515.03 318.28,513.7 318.46,512.23 318.66,510.63 318.88,508.91 319.12,507.09 319.39,505.19 319.67,503.2 319.98,501.15 320.31,499.05 320.66,496.91 321.03,494.73 321.42,492.54 321.83,490.34 322.26,488.13 322.72,485.94 323.19,483.75 323.69,481.58 324.21,479.44 324.75,477.33 325.31,475.26 325.89,473.22 326.49,471.22 327.12,469.26 327.76,467.35 328.43,465.48 329.12,463.67 329.83,461.9 330.56,460.18 331.31,458.5 332.08,456.88 332.87,455.3 333.69,453.77 334.52,452.29 335.38,450.86 336.26,449.47 337.16,448.12 338.08,446.82 339.02,445.56 339.98,444.34 340.96,443.16 341.97,442.02 342.99,440.91 344.04,439.85 345.11,438.82 346.2,437.82 347.31,436.86 348.44,435.92 349.59,435.02 350.77,434.15 351.96,433.31 353.18,432.49 354.42,431.71 355.68,430.94 356.95,430.21 358.26,429.49 359.58,428.8 360.92,428.13 362.29,427.49 363.67,426.86 365.08,426.25 366.51,425.67 367.95,425.1 369.42,424.54 370.92,424.01 372.43,423.49 373.96,422.99 375.52,422.5 377.09,422.03 378.69,421.57 380.31,421.13 381.95,420.7 383.61,420.28 385.29,419.87 386.99,419.48 388.72,419.1 390.46,418.72 392.23,418.36 394.01,418.01 395.82,417.67 397.65,417.34 399.5,417.01 401.38,416.7 403.27,416.4 405.18,416.1 407.12,415.81 409.08,415.53 411.05,415.25 413.05,414.99 415.07,414.73 417.11,414.48 419.18,414.23 421.26,413.99 423.36,413.76 425.49,413.53 427.64,413.31 429.8,413.09 431.99,412.88 434.2,412.67 436.44,412.47 438.69,412.27 440.96,412.08 443.26,411.9 445.57,411.71 447.91,411.54 450.27,411.36 452.65,411.19 455.05,411.03 457.47,410.86 459.92,410.71 462.38,410.55 464.87,410.4 467.37,410.25 469.9,410.11" fill="none" stroke="#111" stroke-width="1.3"/>
<polyline points="317.6,517.18 317.61,517.17 317.64,517.16 317.7,517.13 317.77,517.09 317.86,517.05 317.98,517 318.12,516.94 318.28,516.88 318.46,516.82 318.66,516.75 318.88,516.69 319.12,516.63 319.39,516.57 319.67,516.51 319.98,516.46 320.31,516.4 320.66,516.35 321.03,516.31 321.42,516.26 321.83,516.22 322.26,516.18 322.72,516.15 323.19,516.11 323.69,516.08 324.21,516.05 324.75,516.02 325.31,516 325.89,515.97 326.49,515.95 327.12,515.93 327.76,515.91 328.43,515.89 329.12,515.88 329.83,515.86 330.56,515.84 331.31,515.83 332.08,515.82 332.87,515.8 333.69,515.79 334.52,515.78 335.38,515.77 336.26,515.76 337.16,515.75 338.08,515.74 339.02,515.74 339.98,515.73 340.96,515.72 341.97,515.71 342.99,515.71 344.04,515.7 345.11,515.69 346.2,515.69 347.31,515.68 348.44,515.68 349.59,515.67 350.77,515.67 351.96,515.66 353.18,515.66 354.42,515.66 355.68,515.65 356.95,515.65 358.26,515.65 359.58,515.64 360.92,515.64 362.29,515.64 363.67,515.63 365.08,515.63 366.51,515.63 367.95,515.62 369.42,515.62 370.92,515.62 372.43,515.62 373.96,515.61 375.52,515.61 377.09,515.61 378.69,515.61 380.31,515.61 381.95,515.6 383.61,515.6 385.29,515.6 386.99,515.6 388.72,515.6 390.46,515.6 392.23,515.59 394.01,515.59 395.82,515.59 397.65,515.59 399.5,515.59 401.38,515.59 403.27,515.59 405.18,515.59 407.12,515.58 409.08,515.58 411.05,515.58 413.05,515.58 415.07,515.58 417.11,515.58 419.18,515.58 421.26,515.58 423.36,515.58 425.49,515.58 427.64,515.57 429.8,515.57 431.99,515.57 434.2,515.57 436.44,515.57 438.69,515.57 440.96,515.57 443.26,515.57 445.57,515.57 447.91,515.57 450.27,515.57 452.65,515.57 455.05,515.57 457.47,515.57 459.92,515.56 462.38,515.56 464.87,515.56 467.37,515.56 469.9,515.56" fill="none" stroke="#8fbcf2" stroke-width="1.2"/>
<line x1="325.22" y1="472.3" x2="325.22" y2="481.1" stroke="#333" stroke-width="0.9" />
<line x1="323.42" y1="472.3" x2="327.02" y2="472.3" stroke="#333" stroke-width="0.9" />
<line x1="323.42" y1="481.1" x2="327.02" y2="481.1" stroke="#333" stroke-width="0.9" />
<line x1="332.83" y1="451.18" x2="332.83" y2="461.08" stroke="#333" stroke-width="0.9" />
<line x1="331.03" y1="451.18" x2="334.63" y2="451.18" stroke="#333" stroke-width="0.9" />
<line x1="331.03" y1="461.08" x2="334.63" y2="461.08" stroke="#333" stroke-width="0.9" />
<line x1="348.06" y1="429.18" x2="348.06" y2="441.28" stroke="#333" stroke-width="0.9" />
<line x1="346.26" y1="429.18" x2="349.86" y2="429.18" stroke="#333" stroke-width="0.9" />
<line x1="346.26" y1="441.28" x2="349.86" y2="441.28" stroke="#333" stroke-width="0.9" />
<line x1="393.75" y1="412.13" x2="393.75" y2="422.03" stroke="#333" stroke-width="0.9" />
<line x1="391.95" y1="412.13" x2="395.55" y2="412.13" stroke="#333" stroke-width="0.9" />
<line x1="391.95" y1="422.03" x2="395.55" y2="422.03" stroke="#333" stroke-width="0.9" />
<line x1="469.9" y1="408.06" x2="469.9" y2="412.46" stroke="#333" stroke-width="0.9" />
<line x1="468.1" y1="408.06" x2="471.7" y2="408.06" stroke="#333" stroke-width="0.9" />
<line x1="468.1" y1="412.46" x2="471.7" y2="412.46" stroke="#333" stroke-width="0.9" />
<line x1="325.22" y1="461.08" x2="325.22" y2="469.88" stroke="#333" stroke-width="0.9" />
<line x1="323.42" y1="461.08" x2="327.02" y2="461.08" stroke="#333" stroke-width="0.9" />
<line x1="323.42" y1="469.88" x2="327.02" y2="469.88" stroke="#333" stroke-width="0.9" />
<line x1="332.83" y1="435.67" x2="332.83" y2="447.77" stroke="#333" stroke-width="0.9" />
<line x1="331.03" y1="435.67" x2="334.63" y2="435.67" stroke="#333" stroke-width="0.9" />
<line x1="331.03" y1="447.77" x2="334.63" y2="447.77" stroke="#333" stroke-width="0.9" />
<line x1="348.06" y1="417.3" x2="348.06" y2="431.6" stroke="#333" stroke-width="0.9" />
<line x1="346.26" y1="417.3" x2="349.86" y2="417.3" stroke="#333" stroke-width="0.9" />
<line x1="346.26" y1="431.6" x2="349.86" y2="431.6" stroke="#333" stroke-width="0.9" />
<line x1="393.75" y1="405.97" x2="393.75" y2="418.07" stroke="#333" stroke-width="0.9" />
<line x1="391.95" y1="405.97" x2="395.55" y2="405.97" stroke="#333" stroke-width="0.9" />
<line x1="391.95" y1="418.07" x2="395.55" y2="418.07" stroke="#333" stroke-width="0.9" />
<line x1="469.9" y1="405.53" x2="469.9" y2="409.93" stroke="#333" stroke-width="0.9" />
<line x1="468.1" y1="405.53" x2="471.7" y2="405.53" stroke="#333" stroke-width="0.9" />
<line x1="468.1" y1="409.93" x2="471.7" y2="409.93" stroke="#333" stroke-width="0.9" />
<path d="M316.22,519.15 L321.42,519.15 L318.82,514 Z" fill="#86b9f2" stroke="#38629a" stroke-width="0.8"/>
<path d="M318.05,519.04 L323.25,519.04 L320.65,513.89 Z" fill="#86b9f2" stroke="#38629a" stroke-width="0.8"/>
<path d="M322.62,518.82 L327.82,518.82 L325.22,513.67 Z" fill="#86b9f2" stroke="#38629a" stroke-width="0.8"/>
<path d="M330.23,518.6 L335.43,518.6 L332.83,513.45 Z" fill="#86b9f2" stroke="#38629a" stroke-width="0.8"/>
<path d="M345.46,518.05 L350.66,518.05 L348.06,512.9 Z" fill="#86b9f2" stroke="#38629a" stroke-width="0.8"/>
<path d="M391.15,517.94 L396.35,517.94 L393.75,512.79 Z" fill="#86b9f2" stroke="#38629a" stroke-width="0.8"/>
<path d="M467.3,517.94 L472.5,517.94 L469.9,512.79 Z" fill="#86b9f2" stroke="#38629a" stroke-width="0.8"/>
<rect x="316.37" y="505.9" width="4.9" height="5.4" fill="#000"/>
<rect x="318.2" y="498.31" width="4.9" height="5.4" fill="#000"/>
<rect x="322.77" y="474" width="4.9" height="5.4" fill="#000"/>
<rect x="330.38" y="453.43" width="4.9" height="5.4" fill="#000"/>
<rect x="345.61" y="432.53" width="4.9" height="5.4" fill="#000"/>
<rect x="391.3" y="414.38" width="4.9" height="5.4" fill="#000"/>
<rect x="467.45" y="407.56" width="4.9" height="5.4" fill="#000"/>
<ellipse cx="318.82" cy="503.76" rx="2.5" ry="2.75" fill="#1db574" stroke="#0c5a38" stroke-width="0.8"/>
<ellipse cx="320.65" cy="493.75" rx="2.5" ry="2.75" fill="#1db574" stroke="#0c5a38" stroke-width="0.8"/>
<ellipse cx="325.22" cy="465.48" rx="2.5" ry="2.75" fill="#1db574" stroke="#0c5a38" stroke-width="0.8"/>
<ellipse cx="332.83" cy="441.72" rx="2.5" ry="2.75" fill="#1db574" stroke="#0c5a38" stroke-width="0.8"/>
<ellipse cx="348.06" cy="424.45" rx="2.5" ry="2.75" fill="#1db574" stroke="#0c5a38" stroke-width="0.8"/>
<ellipse cx="393.75" cy="412.02" rx="2.5" ry="2.75" fill="#1db574" stroke="#0c5a38" stroke-width="0.8"/>
<ellipse cx="469.9" cy="407.73" rx="2.5" ry="2.75" fill="#1db574" stroke="#0c5a38" stroke-width="0.8"/>
<line x1="412.7" y1="470.6" x2="422.5" y2="470.6" stroke="#000" stroke-width="1.1" />
<rect x="415.15" y="467.9" width="4.9" height="5.4" fill="#000"/>
<text transform="translate(428.9,473.5) scale(1,1.1)" font-size="7.8" text-anchor="start" >WT</text>
<line x1="412.7" y1="480.2" x2="422.5" y2="480.2" stroke="#27bb7b" stroke-width="1.1" />
<ellipse cx="417.6" cy="480.2" rx="2.5" ry="2.75" fill="#1db574" stroke="#0c5a38" stroke-width="0.8"/>
<text transform="translate(428.9,483.1) scale(1,1.1)" font-size="7.8" text-anchor="start" >V128I</text>
<line x1="412.7" y1="489.7" x2="422.5" y2="489.7" stroke="#8fbcf2" stroke-width="1.1" />
<path d="M415,492 L420.2,492 L417.6,486.85 Z" fill="#86b9f2" stroke="#38629a" stroke-width="0.8"/>
<text transform="translate(428.9,492.6) scale(1,1.1)" font-size="7.8" text-anchor="start" >V128F</text>
</g>
</svg>
</body></html>
